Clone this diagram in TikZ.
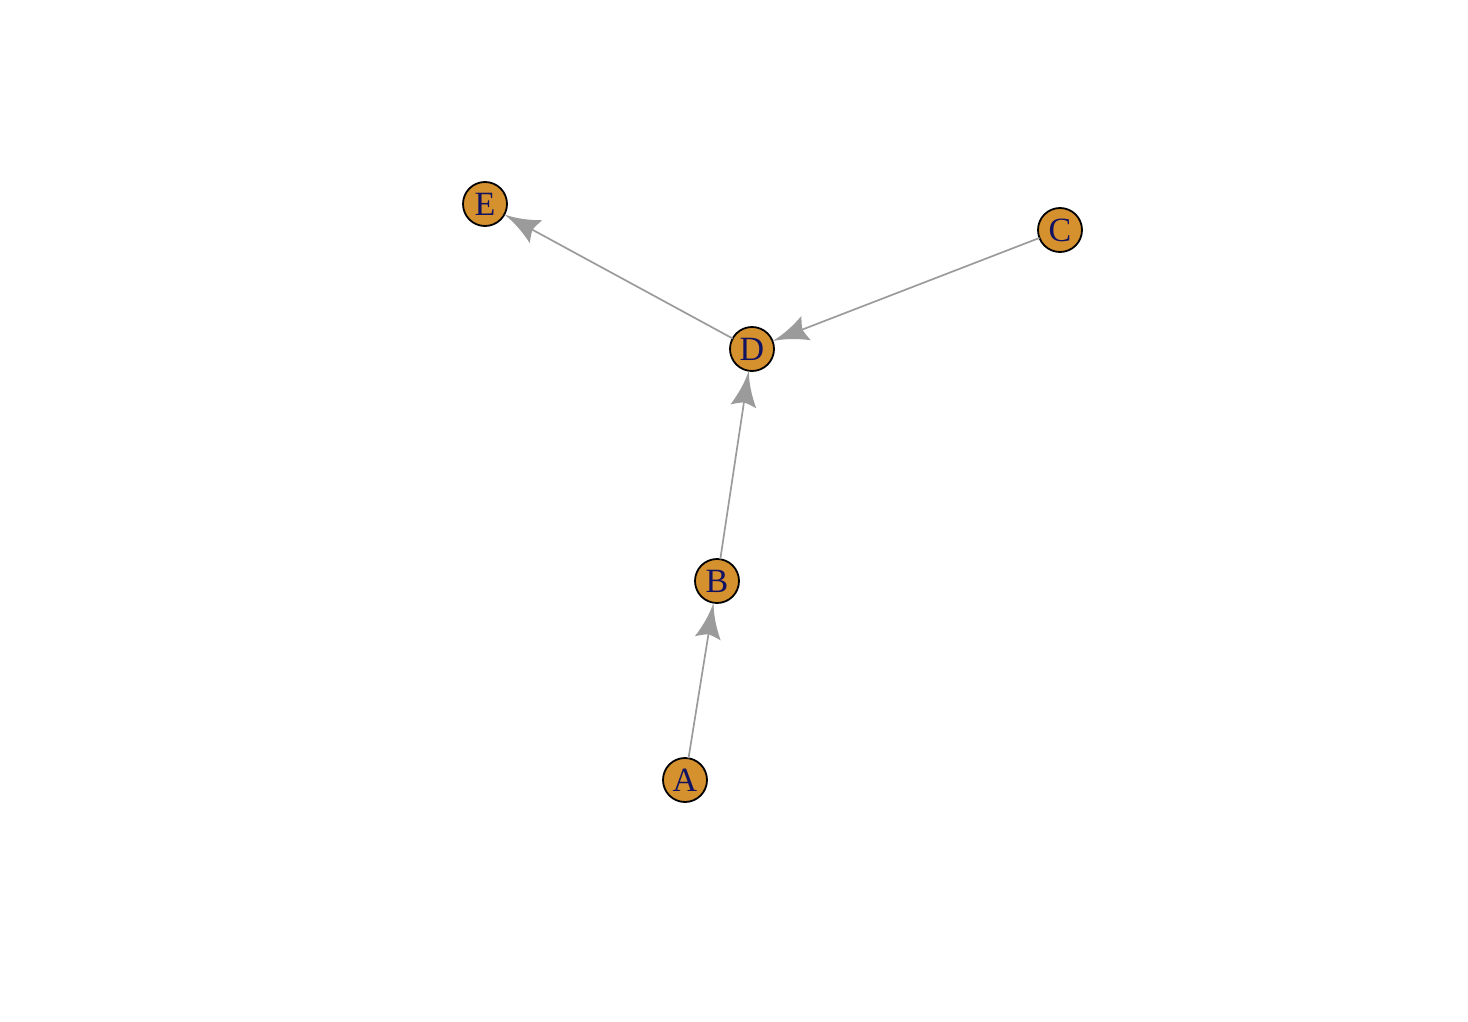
\documentclass[tikz,border=0pt]{standalone}
\usepackage{fontspec}
\setmainfont{Liberation Serif}
\usetikzlibrary{decorations.markings}
\definecolor{vfill}{HTML}{D6912F}
\definecolor{vtext}{HTML}{121262}
\definecolor{ecol}{HTML}{9B9B9B}
\begin{document}
\begin{tikzpicture}[x=1pt,y=-1pt,
  vert/.style={circle, draw=black, line width=1.8pt, fill=vfill, minimum size=44pt,
    inner sep=0pt, outer sep=0pt, text=vtext, font=\fontsize{34}{34}\selectfont},
  edge/.style={draw=ecol, line width=1.7pt, shorten >=20pt,
    postaction={decorate, decoration={markings, mark=at position 1 with {
      \fill[ecol] (0pt,0pt) .. controls (-12pt,2pt) and (-24pt,6.5pt) .. (-36pt,13pt)
        .. controls (-34pt,8pt) and (-32.5pt,3pt) .. (-32pt,0pt)
        .. controls (-32.5pt,-3pt) and (-34pt,-8pt) .. (-36pt,-13pt)
        .. controls (-24pt,-6.5pt) and (-12pt,-2pt) .. (0pt,0pt) -- cycle;
    }}}}
]
\useasboundingbox (0,0) rectangle (1468,1022);
\node[vert] (E) at (485,204) {E};
\node[vert] (C) at (1060,230) {C};
\node[vert] (D) at (752,349) {D};
\node[vert] (B) at (717,581) {B};
\node[vert] (A) at (685,780) {A};
\path[edge] (A) -- (B);
\path[edge] (B) -- (D);
\path[edge] (C) -- (D);
\path[edge] (D) -- (E);
\end{tikzpicture}
\end{document}
